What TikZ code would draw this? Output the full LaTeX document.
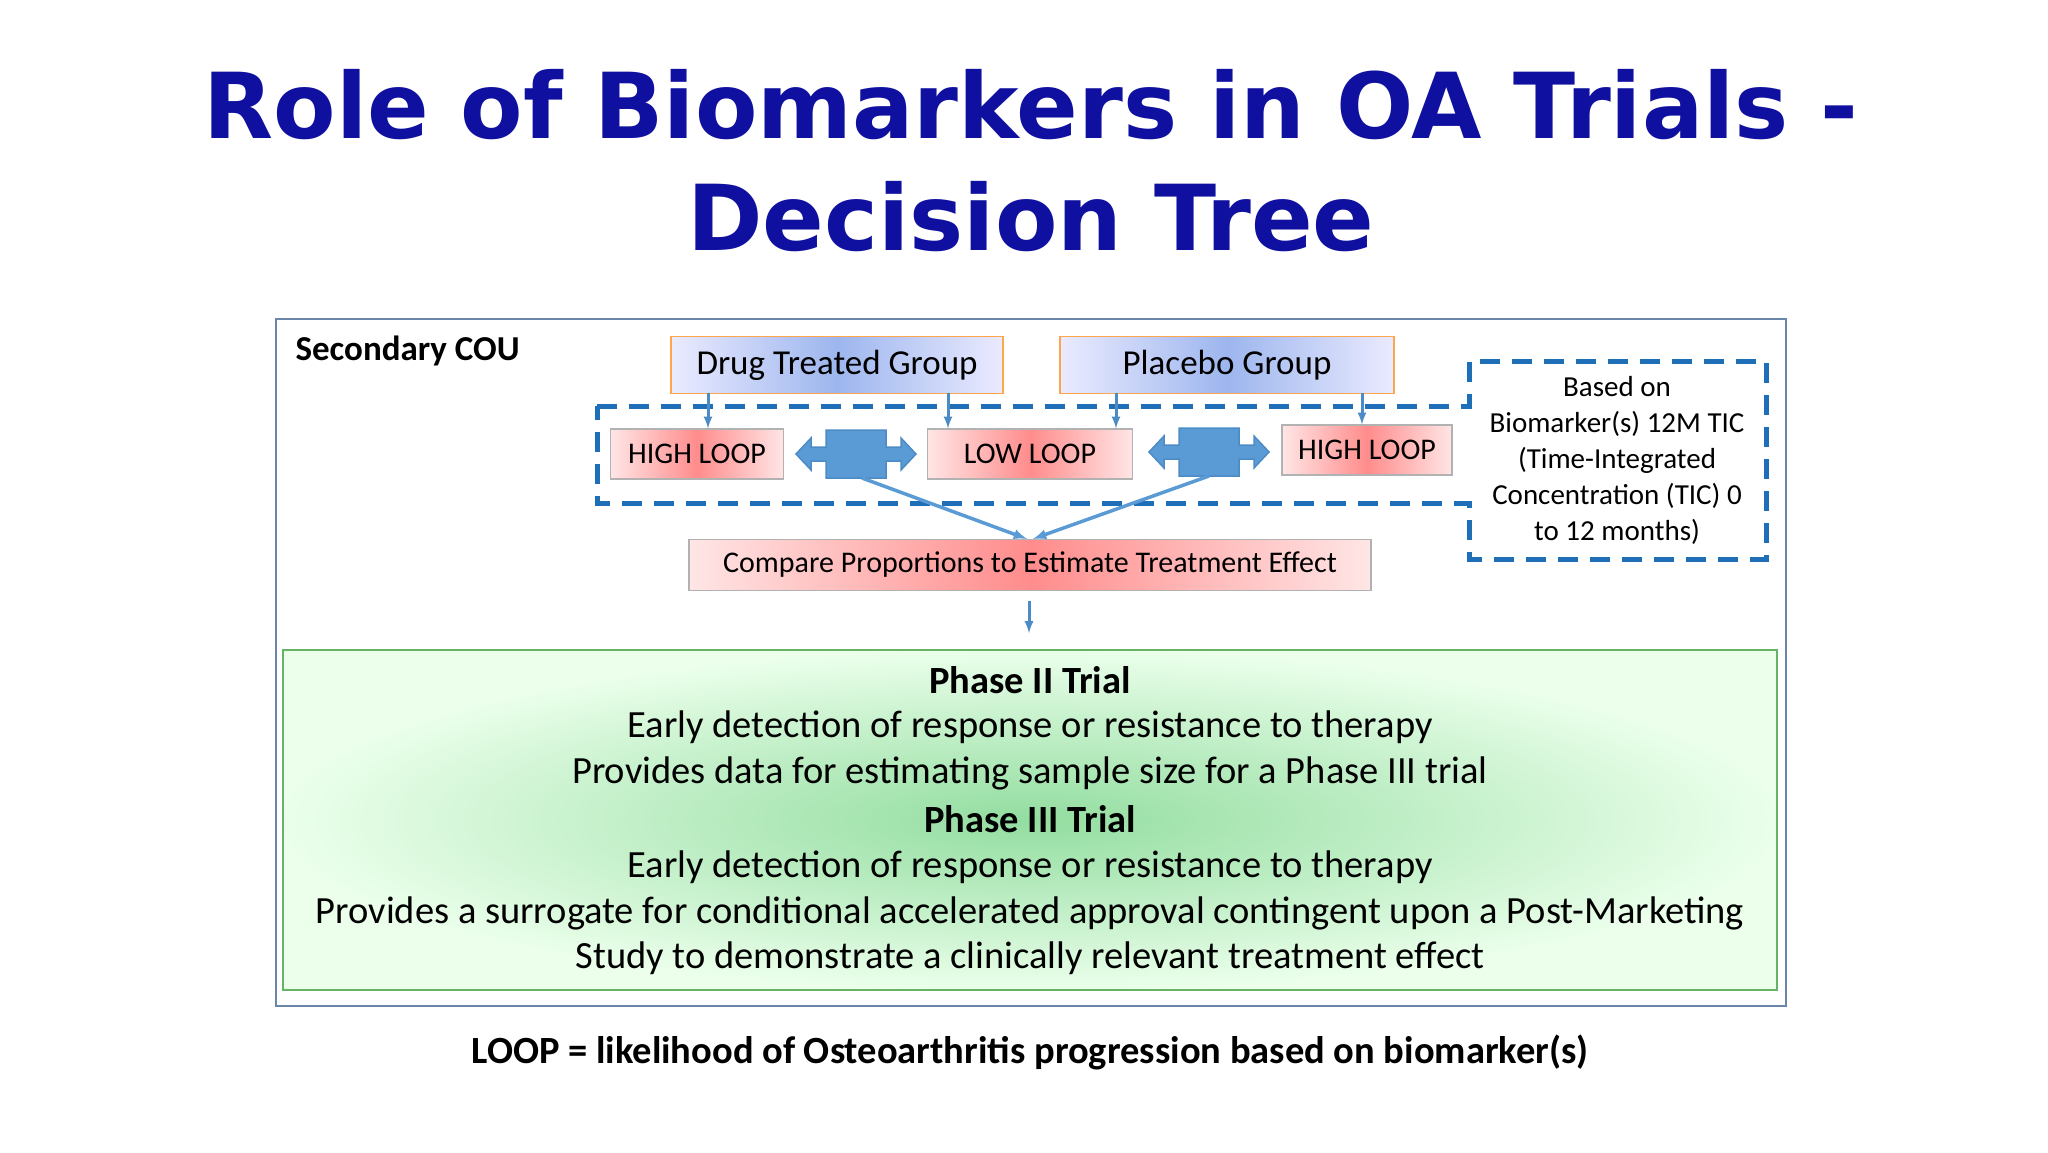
\documentclass[tikz,border=0pt]{standalone}
\usepackage{fontspec}
\setmainfont{Carlito}
\newfontfamily\titlefont{DejaVu Sans}
\usetikzlibrary{calc}
\usetikzlibrary{arrows}
\usetikzlibrary{shapes}
\usetikzlibrary{positioning}
\definecolor{titleblue}{HTML}{1010A0}
\definecolor{dashblue}{HTML}{1F6FB8}
\definecolor{arrowblue}{HTML}{5B9BD5}
\definecolor{framegray}{HTML}{6A86A8}
\definecolor{groupblue}{HTML}{9DB6EE}
\definecolor{phasegreen}{HTML}{93DDA0}
\tikzset{
  title/.style={font=\titlefont\bfseries\fontsize{91}{96}\selectfont, text=titleblue},
  group/.style={rectangle, draw=orange!70, line width=1.2pt, left color=blue!8, right color=blue!8, middle color=groupblue, minimum width=332, minimum height=57, font=\fontsize{35}{40}\selectfont},
  loop/.style={rectangle, draw=gray!60, line width=1.2pt, left color=red!10, right color=red!10, middle color=red!45!white, minimum height=50, font=\fontsize{30}{34}\selectfont},
  body/.style={font=\fontsize{38.5}{44}\selectfont},
  heading/.style={font=\bfseries\fontsize{38.5}{44}\selectfont},
  smallarrow/.style={-latex, draw=dashblue!80, line width=3pt},
  pics/swap/.style={code={
    \fill[arrowblue, draw=dashblue!80, line width=1.5pt] (-60,0) -- (-45,16) -- (-45,7) -- (-30,7) -- (-30,24) -- (30,24) -- (30,7) -- (45,7) -- (45,16) -- (60,0) -- (45,-16) -- (45,-7) -- (30,-7) -- (30,-24) -- (-30,-24) -- (-30,-7) -- (-45,-7) -- (-45,-16) -- cycle;
  }}
}
\begin{document}
\begin{tikzpicture}[x=1pt, y=-1pt]
\useasboundingbox (0,0) rectangle (2048,1152);
\node [title] (T1) at (1031,105) {Role of Biomarkers in OA Trials -};
\node [title] (T2) at (1031,217) {Decision Tree};
\draw [framegray, line width=1.5pt] (276,319) rectangle (1786,1006);
\node [anchor=west, font=\bfseries\fontsize{35}{40}\selectfont] (COU) at (292,351) {Secondary COU};
% groups
\node [group] (DG) at (837,365) {Drug Treated Group};
\node [group, minimum width=334] (PG) at (1227,365) {Placebo Group};
% dashed outline
\draw [dashblue, line width=5pt, dash pattern=on 20pt off 12pt] (597,406) -- (1469,406) -- (1469,361) -- (1766,361) -- (1766,559) -- (1469,559) -- (1469,503) -- (597,503) -- cycle;
\node [align=center, font=\fontsize{29}{36}\selectfont] (TIC) at (1617,460) {Based on\\Biomarker(s) 12M TIC\\(Time-Integrated\\Concentration (TIC) 0\\to 12 months)};
% loops
\node [loop, minimum width=173] (HL1) at (697,454) {HIGH LOOP};
\node [loop, minimum width=205] (LL) at (1030,454) {LOW LOOP};
\node [loop, minimum width=170] (HL2) at (1367,450) {HIGH LOOP};
\coordinate (D1) at (708,393); \coordinate (D2) at (948,393);
\coordinate (P1) at (1116,393); \coordinate (P2) at (1362,393);
\draw [smallarrow] (D1) -- (D1 |- HL1.north);
\draw [smallarrow] (D2) -- (D2 |- LL.north);
\draw [smallarrow] (P1) -- (P1 |- LL.north);
\draw [smallarrow] (P2) -- (P2 |- HL2.north);
\pic at (856,454) {swap};
\pic at (1209,452) {swap};
\coordinate (S1) at (862,478); \coordinate (S2) at (1209,476);
% compare
\node [loop, minimum width=682, minimum height=51] (CMP) at (1030,565) {Compare Proportions to Estimate Treatment Effect};
\draw [-latex, arrowblue, line width=3.5pt] (S1) -- ([xshift=-3]CMP.north);
\draw [-latex, arrowblue, line width=3.5pt] (S2) -- ([xshift=3]CMP.north);
\coordinate (C1) at (1029,601);
% phases
\shade [inner color=phasegreen, outer color=green!8!white] (283,650) rectangle (1777,990);
\draw [green!50!black!60, line width=1.2pt] (283,650) rectangle (1777,990);
\coordinate (C2) at (1029,633);
\draw [smallarrow] (C1) -- (C2);
\node [heading] (P2T) at (1030,680) {Phase II Trial};
\node [body] (L1) at (1030,727) {Early detection of response or resistance to therapy};
\node [body] (L2) at (1030,773) {Provides data for estimating sample size for a Phase III trial};
\node [heading] (P3T) at (1030,819) {Phase III Trial};
\node [body] (L3) at (1030,867) {Early detection of response or resistance to therapy};
\node [body] (L4) at (1030,913) {Provides a surrogate for conditional accelerated approval contingent upon a Post-Marketing};
\node [body] (L5) at (1030,958) {Study to demonstrate a clinically relevant treatment effect};
\node [heading] (FOOT) at (1030,1052) {LOOP = likelihood of Osteoarthritis progression based on biomarker(s)};
\end{tikzpicture}
\end{document}
